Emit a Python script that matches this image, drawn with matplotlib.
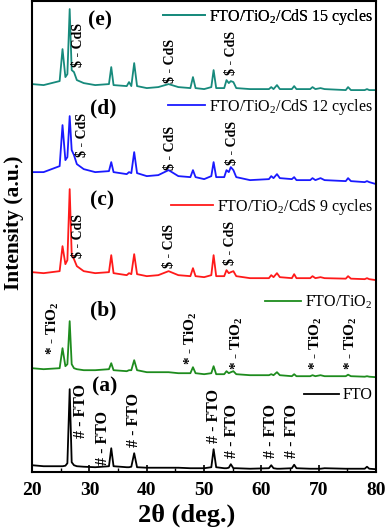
import numpy as np
import matplotlib
matplotlib.use('Agg')
import matplotlib.pyplot as plt
from matplotlib.ticker import MultipleLocator

plt.rcParams['font.family'] = ['Liberation Serif', 'DejaVu Serif']
plt.rcParams['mathtext.fontset'] = 'custom'
plt.rcParams['mathtext.rm'] = 'Liberation Serif'
plt.rcParams['mathtext.bf'] = 'Liberation Serif:bold'

two_theta = [20.0, 22.0, 24.8, 25.3, 25.8, 26.15, 26.55, 26.9, 27.3, 27.8,
             29.0, 31.0, 33.4, 33.8, 34.2, 36.5, 36.9, 37.3, 37.8, 38.3,
             40.0, 42.0, 43.8, 45.5, 47.6, 48.05, 48.5, 50.0, 51.25, 51.65,
             52.1, 53.5, 53.9, 54.3, 54.65, 55.1, 55.6, 58.0, 61.3, 61.7,
             62.1, 62.7, 63.2, 65.3, 65.7, 66.1, 68.5, 68.9, 69.4, 70.3,
             71.0, 74.7, 75.1, 75.6, 78.0, 78.4, 78.8, 80.0]

# intensities (a.u., already stacked with offsets)
fto = [7, 6, 6, 6, 6.5, 9, 83, 10, 7, 6,
       5.5, 5, 6, 24, 6, 5, 5, 5.5, 19, 5,
       4.5, 4.5, 4.5, 4.5, 4, 4, 4, 4, 5, 23,
       5, 4, 4, 4.5, 8, 4, 4, 3.5, 4, 7,
       4, 3.5, 3.5, 4, 7.5, 4, 3.5, 3.5, 3.5, 3.5,
       4, 3.5, 3.5, 3.5, 3.5, 5.5, 3.5, 3]
fto_tio2 = [104, 103, 104, 124, 106, 108, 151, 108, 104, 103,
            102, 102, 103, 109, 102, 101, 102, 102, 112, 102,
            100, 100, 100, 99, 99, 105, 99, 98, 99, 106,
            98, 98, 101, 99, 100, 101, 98, 97, 97, 98,
            97, 100, 97, 96, 98, 96, 96, 97, 96, 97,
            96, 96, 97.5, 96, 95.5, 96, 95.5, 95]
cds_9 = [200, 199, 201, 226, 208, 212, 283, 218, 213, 206,
         201, 199, 200, 217, 199, 197, 199, 198, 218, 198,
         196, 197, 201, 197, 196, 204, 196, 195, 197, 217,
         196, 196, 202, 199, 200, 201, 196, 194, 194, 197,
         195, 199, 195, 194, 198, 194, 194, 196, 194, 195,
         194, 193.5, 196, 193.5, 193, 194, 193, 192]
cds_12 = [300, 300, 306, 347, 312, 315, 356, 322, 317, 308,
          303, 300, 301, 310, 300, 298, 300, 299, 320, 299,
          296, 297, 302, 296, 295, 302, 295, 293, 296, 310,
          295, 295, 302, 300, 305, 302, 295, 292, 293, 296,
          294, 298, 294, 293, 295, 292, 292, 294, 292, 294,
          292, 291, 294, 291, 290, 291, 290, 288]
cds_15 = [388, 387, 391, 423, 395, 398, 463, 402, 400, 392,
          389, 387, 388, 405, 387, 386, 390, 386, 409, 386,
          384, 385, 388, 385, 384, 395, 384, 383, 385, 402,
          384, 384, 392, 389, 391, 390, 384, 383, 383, 385,
          383, 387, 383, 383, 386, 383, 383, 385, 383, 384,
          383, 382, 385, 382, 382, 383, 382, 382]

series = [fto, fto_tio2, cds_9, cds_12, cds_15]
names = ['FTO', 'FTO/TiO$_2$', 'FTO/TiO$_2$/CdS 9 cycles',
         'FTO/TiO$_2$/CdS 12 cycles', 'FTO/TiO$_2$/CdS 15 cycles']
colors = ['black', '#1e8c1e', '#ff1a1a', '#1a1aff', '#178a7c']
panel_tags = ['(a)', '(b)', '(c)', '(d)', '(e)']
tag_pos = [(32.7, 86), (32.4, 162), (32.2, 272), (32.4, 364), (31.9, 452)]
legend_y = [0.163, 0.361, 0.563, 0.775, 0.966]
legend_hl = [2.2, 2.3, 2.6, 2.3, 2.6]

# peak markers (x, y of text bottom)
fto_marks = [(28.5, 34), (32.4, 7), (37.8, 25), (51.7, 29), (54.9, 14), (61.7, 14), (65.4, 14)]
tio2_marks = [(23.5, 117), (47.6, 107), (55.6, 102), (69.4, 102), (75.6, 102)]
cds_marks = [(28.1, 214), (43.9, 204), (54.6, 207),
             (28.8, 315), (44.1, 302), (54.9, 307),
             (28.1, 405), (44.1, 389), (54.7, 397)]

fig = plt.figure(figsize=(3.87, 5.30), dpi=100)
ax = fig.add_axes([0.083, 0.109, 0.889, 0.889])

for y, name, c, ly, hl in zip(series, names, colors, legend_y, legend_hl):
    line, = ax.plot(two_theta, y, color=c, lw=1.3)
    leg = ax.legend([line], [name], loc='center right', bbox_to_anchor=(0.99, ly),
                    frameon=False, fontsize=11.5, handlelength=hl, handletextpad=0.25,
                    borderpad=0, borderaxespad=0)
    ax.add_artist(leg)

for tag, (tx, ty) in zip(panel_tags, tag_pos):
    ax.text(tx, ty, tag, fontsize=15.5, fontweight='bold', ha='center', va='center')

for x, y in fto_marks:
    ax.text(x, y, '# - FTO', rotation=90, fontsize=11.5, fontweight='bold', ha='center', va='bottom')
for x, y in tio2_marks:
    ax.text(x, y, r'* - TiO$_\mathbf{2}$', rotation=90, fontsize=11, fontweight='bold',
            ha='center', va='bottom')
for x, y in cds_marks:
    ax.text(x, y, '$ - CdS', rotation=90, fontsize=10, fontweight='bold', ha='center', va='bottom')

ax.set_xlim(20, 80)
ax.set_ylim(0, 471)
ax.set_yticks([])
ax.xaxis.set_major_locator(MultipleLocator(10))
ax.xaxis.set_minor_locator(MultipleLocator(5))
ax.tick_params(axis='x', which='major', direction='in', length=5, width=1.2, labelsize=14, pad=7)
ax.tick_params(axis='x', which='minor', direction='in', length=3, width=1.0)
for lab in ax.get_xticklabels():
    lab.set_fontweight('bold')
for sp in ax.spines.values():
    sp.set_linewidth(1.5)

ax.set_xlabel('2θ (deg.)', fontsize=19, fontweight='bold')
ax.xaxis.set_label_coords(0.45, -0.066)
ax.set_ylabel('Intensity (a.u.)', fontsize=15.5, fontweight='bold')
ax.yaxis.set_label_coords(-0.025, 0.53)

fig.savefig('out.png', dpi=100)
